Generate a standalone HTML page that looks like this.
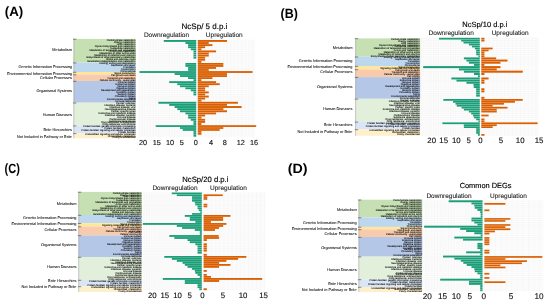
<!DOCTYPE html>
<html lang="en"><head><meta charset="utf-8"><title>KEGG enrichment of DEGs</title>
<style>
html,body{margin:0;padding:0;background:#fff}
body{width:550px;height:305px;overflow:hidden}
svg{display:block}
svg text{font-family:"Liberation Sans",sans-serif;text-rendering:geometricPrecision}
.l{font-size:13.4px;font-weight:bold;fill:#000}
.t{font-size:8px;fill:#000;text-anchor:middle;stroke:#000;stroke-width:.15px}
.d{font-size:6.5px;fill:#222;text-anchor:middle;stroke:#222;stroke-width:.1px}
.a{font-size:7.3px;fill:#111;text-anchor:middle;stroke:#111;stroke-width:.12px}
.c{font-size:3.85px;fill:#1c1c1c;text-anchor:end;stroke:#1c1c1c;stroke-width:.08px}
.s{font-size:2.5px;fill:#111;text-anchor:end;stroke:#111;stroke-width:.07px}
.g{fill:#1b9e77}
.o{fill:#d95f02}
.k{stroke:#222;stroke-width:.5}
.v{stroke:#666;stroke-width:.35}
</style></head><body>
<svg width="550" height="305" viewBox="0 0 550 305">
<rect width="550" height="305" fill="#fff"/>
<g id="panel-A">
<text class="l" x="4.8" y="15.8" textLength="18.5" lengthAdjust="spacingAndGlyphs">(A)</text>
<text class="t" x="204.5" y="28.8" style="font-size:8px">NcSp/ 5 d.p.i</text>
<text class="d" x="166.5" y="37.2">Downregulation</text>
<text class="d" x="224.3" y="37.2">Upregulation</text>
<rect x="73.8" y="38.9" width="62.2" height="23.7" fill="#c6e0b4"/>
<rect x="73.8" y="62.6" width="62.2" height="9.4" fill="#bdd7ee"/>
<rect x="73.8" y="72" width="62.2" height="2.5" fill="#ffe699"/>
<rect x="73.8" y="74.5" width="62.2" height="6.5" fill="#f8cbad"/>
<rect x="73.8" y="81" width="62.2" height="21.7" fill="#b4c7e7"/>
<rect x="73.8" y="102.7" width="62.2" height="22.9" fill="#e2efda"/>
<rect x="73.8" y="125.6" width="62.2" height="7.7" fill="#dae6f5"/>
<rect x="73.8" y="133.3" width="62.2" height="5" fill="#fff0cc"/>
<line class="v" x1="73.8" x2="73.8" y1="38.9" y2="138.3"/>
<line class="k" x1="73" x2="76.4" y1="39.2" y2="39.2"/>
<text class="c" x="72" y="51.45">Metabolism</text>
<text class="s" x="135.4" y="40.64">Carbohydrate metabolism</text>
<text class="s" x="135.4" y="42.61">Energy metabolism</text>
<text class="s" x="135.4" y="44.59">Lipid metabolism</text>
<text class="s" x="135.4" y="46.56">Glycan biosynthesis and metabolism</text>
<text class="s" x="135.4" y="48.54">Nucleotide metabolism</text>
<text class="s" x="135.4" y="50.51">Metabolism of terpenoids and polyketides</text>
<text class="s" x="135.4" y="52.49">Amino acid metabolism</text>
<text class="s" x="135.4" y="54.46">Metabolism of other amino acids</text>
<text class="s" x="135.4" y="56.44">Metabolism of cofactors and vitamins</text>
<text class="s" x="135.4" y="58.41">Biosynthesis of other secondary metabolites</text>
<text class="s" x="135.4" y="60.39">Global and overview maps</text>
<text class="s" x="135.4" y="62.36">Xenobiotics biodegradation and metabolism</text>
<line class="k" x1="73" x2="76.4" y1="62.9" y2="62.9"/>
<text class="c" x="72" y="68.25">Genetic Information Processing</text>
<text class="s" x="135.4" y="64.29">Folding, sorting and degradation</text>
<text class="s" x="135.4" y="66.17">Replication and repair</text>
<text class="s" x="135.4" y="68.05">Translation</text>
<text class="s" x="135.4" y="69.93">Transcription</text>
<text class="s" x="135.4" y="71.81">Chromosome</text>
<line class="k" x1="73" x2="76.4" y1="72.3" y2="72.3"/>
<text class="c" x="72" y="74.65">Environmental Information Processing</text>
<text class="s" x="135.4" y="74">Signal transduction</text>
<line class="k" x1="73" x2="76.4" y1="74.8" y2="74.8"/>
<text class="c" x="72" y="78.95">Cellular Processes</text>
<text class="s" x="135.4" y="76.33">Cell growth and death</text>
<text class="s" x="135.4" y="78.5">Transport and catabolism</text>
<text class="s" x="135.4" y="80.67">Cellular community - eukaryotes</text>
<line class="k" x1="73" x2="76.4" y1="81.3" y2="81.3"/>
<text class="c" x="72" y="92.45">Organismal Systems</text>
<text class="s" x="135.4" y="82.74">Immune system</text>
<text class="s" x="135.4" y="84.71">Endocrine system</text>
<text class="s" x="135.4" y="86.68">Nervous system</text>
<text class="s" x="135.4" y="88.65">Digestive system</text>
<text class="s" x="135.4" y="90.63">Development and regeneration</text>
<text class="s" x="135.4" y="92.6">Excretory system</text>
<text class="s" x="135.4" y="94.57">Sensory system</text>
<text class="s" x="135.4" y="96.55">Circulatory system</text>
<text class="s" x="135.4" y="98.52">Aging</text>
<text class="s" x="135.4" y="100.49">Environmental adaptation</text>
<text class="s" x="135.4" y="102.46">Immune response</text>
<line class="k" x1="73" x2="76.4" y1="103" y2="103"/>
<text class="c" x="72" y="115.55">Human Diseases</text>
<text class="s" x="135.4" y="104.4">Cancer: overview</text>
<text class="s" x="135.4" y="106.31">Infectious disease: bacterial</text>
<text class="s" x="135.4" y="108.22">Infectious disease: viral</text>
<text class="s" x="135.4" y="110.13">Neurodegenerative disease</text>
<text class="s" x="135.4" y="112.04">Cancer: specific types</text>
<text class="s" x="135.4" y="113.95">Endocrine and metabolic disease</text>
<text class="s" x="135.4" y="115.85">Infectious disease: parasitic</text>
<text class="s" x="135.4" y="117.76">Immune disease</text>
<text class="s" x="135.4" y="119.67">Cardiovascular disease</text>
<text class="s" x="135.4" y="121.58">Substance dependence</text>
<text class="s" x="135.4" y="123.49">Drug resistance: antineoplastic</text>
<text class="s" x="135.4" y="125.4">Drug resistance: antimicrobial</text>
<line class="k" x1="73" x2="76.4" y1="125.9" y2="125.9"/>
<text class="c" x="72" y="131.35">Brite Hierarchies</text>
<text class="s" x="135.4" y="127.31">Protein families: genetic information processing</text>
<text class="s" x="135.4" y="129.24">Protein families: metabolism</text>
<text class="s" x="135.4" y="131.16">Protein families: signaling and cellular processes</text>
<text class="s" x="135.4" y="133.09">Protein families</text>
<line class="k" x1="73" x2="76.4" y1="133.6" y2="133.6"/>
<text class="c" x="72" y="137.65">Not Included in Pathway or Brite</text>
<text class="s" x="135.4" y="134.88">Unclassified: signaling and cellular processes</text>
<text class="s" x="135.4" y="136.55">Unclassified: metabolism</text>
<text class="s" x="135.4" y="138.22">Poorly characterized</text>
<rect x="138.4" y="39.4" width="116.6" height="97.7" fill="#fdfdfd"/>
<path d="M138.4 40.94H255M138.4 43.03H255M138.4 45.12H255M138.4 47.21H255M138.4 49.3H255M138.4 51.4H255M138.4 53.49H255M138.4 55.58H255M138.4 57.67H255M138.4 59.76H255M138.4 61.85H255M138.4 63.91H255M138.4 65.94H255M138.4 67.96H255M138.4 69.99H255M138.4 72.01H255M138.4 74.03H255M138.4 76.05H255M138.4 78.07H255M138.4 80.09H255M138.4 82.13H255M138.4 84.19H255M138.4 86.25H255M138.4 88.31H255M138.4 90.37H255M138.4 92.43H255M138.4 94.49H255M138.4 96.55H255M138.4 98.61H255M138.4 100.67H255M138.4 102.76H255M138.4 104.88H255M138.4 107.01H255M138.4 109.14H255M138.4 111.27H255M138.4 113.39H255M138.4 115.52H255M138.4 117.65H255M138.4 119.78H255M138.4 121.9H255M138.4 124.03H255M138.4 126.07H255M138.4 128.01H255M138.4 129.95H255M138.4 131.89H255M138.4 133.83H255M138.4 135.8H255M196.2 39.4V137.1M193.5 39.4V137.1M190.8 39.4V137.1M188.1 39.4V137.1M185.4 39.4V137.1M182.7 39.4V137.1M180 39.4V137.1M177.3 39.4V137.1M174.6 39.4V137.1M171.9 39.4V137.1M169.2 39.4V137.1M166.5 39.4V137.1M163.8 39.4V137.1M161.1 39.4V137.1M158.4 39.4V137.1M155.7 39.4V137.1M153 39.4V137.1M150.3 39.4V137.1M147.6 39.4V137.1M144.9 39.4V137.1M142.2 39.4V137.1M139.5 39.4V137.1M197.8 39.4V137.1M201.45 39.4V137.1M205.1 39.4V137.1M208.75 39.4V137.1M212.4 39.4V137.1M216.05 39.4V137.1M219.7 39.4V137.1M223.35 39.4V137.1M227 39.4V137.1M230.65 39.4V137.1M234.3 39.4V137.1M237.95 39.4V137.1M241.6 39.4V137.1M245.25 39.4V137.1M248.9 39.4V137.1M252.55 39.4V137.1" fill="none" stroke="#eeeeee" stroke-width=".25"/>
<rect class="g" x="163.8" y="40" width="32.4" height="1.88"/>
<rect class="o" x="197.8" y="40" width="29.2" height="1.88"/>
<rect class="g" x="185.4" y="42.09" width="10.8" height="1.88"/>
<rect class="o" x="197.8" y="42.09" width="10.95" height="1.88"/>
<rect class="g" x="188.1" y="44.18" width="8.1" height="1.88"/>
<rect class="o" x="197.8" y="44.18" width="14.6" height="1.88"/>
<rect class="g" x="188.1" y="46.27" width="8.1" height="1.88"/>
<rect class="o" x="197.8" y="46.27" width="7.3" height="1.88"/>
<rect class="g" x="190.8" y="48.36" width="5.4" height="1.88"/>
<rect class="o" x="197.8" y="48.36" width="3.65" height="1.88"/>
<rect class="g" x="193.5" y="50.45" width="2.7" height="1.88"/>
<rect class="o" x="197.8" y="50.45" width="18.25" height="1.88"/>
<rect class="g" x="193.5" y="52.55" width="2.7" height="1.88"/>
<rect class="o" x="197.8" y="52.55" width="10.95" height="1.88"/>
<rect class="g" x="193.5" y="54.64" width="2.7" height="1.88"/>
<rect class="o" x="197.8" y="54.64" width="10.95" height="1.88"/>
<rect class="g" x="193.5" y="56.73" width="2.7" height="1.88"/>
<rect class="o" x="197.8" y="56.73" width="7.3" height="1.88"/>
<rect class="o" x="197.8" y="58.82" width="7.3" height="1.88"/>
<rect class="o" x="197.8" y="60.91" width="3.65" height="1.88"/>
<rect class="g" x="185.4" y="63" width="10.8" height="1.82"/>
<rect class="o" x="197.8" y="63" width="25.55" height="1.82"/>
<rect class="g" x="185.4" y="65.03" width="10.8" height="1.82"/>
<rect class="o" x="197.8" y="65.03" width="25.55" height="1.82"/>
<rect class="g" x="188.1" y="67.05" width="8.1" height="1.82"/>
<rect class="o" x="197.8" y="67.05" width="18.25" height="1.82"/>
<rect class="g" x="188.1" y="69.07" width="8.1" height="1.82"/>
<rect class="o" x="197.8" y="69.07" width="10.95" height="1.82"/>
<rect class="g" x="139.5" y="71.1" width="56.7" height="1.82"/>
<rect class="o" x="197.8" y="71.1" width="54.75" height="1.82"/>
<rect class="g" x="174.6" y="73.12" width="21.6" height="1.82"/>
<rect class="o" x="197.8" y="73.12" width="29.2" height="1.82"/>
<rect class="g" x="180" y="75.14" width="16.2" height="1.82"/>
<rect class="o" x="197.8" y="75.14" width="29.2" height="1.82"/>
<rect class="g" x="188.1" y="77.16" width="8.1" height="1.82"/>
<rect class="o" x="197.8" y="77.16" width="14.6" height="1.82"/>
<rect class="g" x="193.5" y="79.18" width="2.7" height="1.82"/>
<rect class="o" x="197.8" y="79.18" width="3.65" height="1.82"/>
<rect class="g" x="169.2" y="81.2" width="27" height="1.85"/>
<rect class="o" x="197.8" y="81.2" width="18.25" height="1.85"/>
<rect class="g" x="177.3" y="83.26" width="18.9" height="1.85"/>
<rect class="o" x="197.8" y="83.26" width="21.9" height="1.85"/>
<rect class="g" x="180" y="85.32" width="16.2" height="1.85"/>
<rect class="o" x="197.8" y="85.32" width="10.95" height="1.85"/>
<rect class="g" x="185.4" y="87.38" width="10.8" height="1.85"/>
<rect class="o" x="197.8" y="87.38" width="7.3" height="1.85"/>
<rect class="g" x="190.8" y="89.44" width="5.4" height="1.85"/>
<rect class="o" x="197.8" y="89.44" width="7.3" height="1.85"/>
<rect class="g" x="193.5" y="91.5" width="2.7" height="1.85"/>
<rect class="o" x="197.8" y="91.5" width="10.95" height="1.85"/>
<rect class="g" x="193.5" y="93.56" width="2.7" height="1.85"/>
<rect class="o" x="197.8" y="93.56" width="7.3" height="1.85"/>
<rect class="o" x="197.8" y="95.62" width="10.95" height="1.85"/>
<rect class="o" x="197.8" y="97.68" width="7.3" height="1.85"/>
<rect class="o" x="197.8" y="99.74" width="3.65" height="1.85"/>
<rect class="g" x="158.4" y="101.8" width="37.8" height="1.91"/>
<rect class="o" x="197.8" y="101.8" width="40.15" height="1.91"/>
<rect class="g" x="169.2" y="103.93" width="27" height="1.91"/>
<rect class="o" x="197.8" y="103.93" width="29.2" height="1.91"/>
<rect class="g" x="174.6" y="106.05" width="21.6" height="1.91"/>
<rect class="o" x="197.8" y="106.05" width="43.8" height="1.91"/>
<rect class="g" x="177.3" y="108.18" width="18.9" height="1.91"/>
<rect class="o" x="197.8" y="108.18" width="25.55" height="1.91"/>
<rect class="g" x="180" y="110.31" width="16.2" height="1.91"/>
<rect class="o" x="197.8" y="110.31" width="29.2" height="1.91"/>
<rect class="g" x="185.4" y="112.44" width="10.8" height="1.91"/>
<rect class="o" x="197.8" y="112.44" width="18.25" height="1.91"/>
<rect class="g" x="188.1" y="114.56" width="8.1" height="1.91"/>
<rect class="o" x="197.8" y="114.56" width="7.3" height="1.91"/>
<rect class="g" x="188.1" y="116.69" width="8.1" height="1.91"/>
<rect class="o" x="197.8" y="116.69" width="3.65" height="1.91"/>
<rect class="g" x="190.8" y="118.82" width="5.4" height="1.91"/>
<rect class="o" x="197.8" y="118.82" width="7.3" height="1.91"/>
<rect class="g" x="193.5" y="120.95" width="2.7" height="1.91"/>
<rect class="o" x="197.8" y="120.95" width="7.3" height="1.91"/>
<rect class="g" x="193.5" y="123.07" width="2.7" height="1.91"/>
<rect class="o" x="197.8" y="123.07" width="3.65" height="1.91"/>
<rect class="g" x="155.7" y="125.2" width="40.5" height="1.75"/>
<rect class="o" x="197.8" y="125.2" width="58.4" height="1.75"/>
<rect class="g" x="180" y="127.14" width="16.2" height="1.75"/>
<rect class="o" x="197.8" y="127.14" width="25.55" height="1.75"/>
<rect class="g" x="182.7" y="129.08" width="13.5" height="1.75"/>
<rect class="o" x="197.8" y="129.08" width="21.9" height="1.75"/>
<rect class="g" x="193.5" y="131.02" width="2.7" height="1.75"/>
<rect class="o" x="197.8" y="131.02" width="3.65" height="1.75"/>
<rect class="g" x="193.5" y="132.96" width="2.7" height="1.75"/>
<rect class="o" x="197.8" y="132.96" width="3.65" height="1.75"/>
<rect class="g" x="193.5" y="134.9" width="2.7" height="1.8"/>
<text class="a" x="143" y="145.4" style="font-size:7.3px">20</text>
<text class="a" x="156.7" y="145.4" style="font-size:7.3px">15</text>
<text class="a" x="170.1" y="145.4" style="font-size:7.3px">10</text>
<text class="a" x="181.9" y="145.4" style="font-size:7.3px">5</text>
<text class="a" x="195.9" y="145.4" style="font-size:7.3px">0</text>
<text class="a" x="211" y="145.4" style="font-size:7.3px">4</text>
<text class="a" x="224.7" y="145.4" style="font-size:7.3px">8</text>
<text class="a" x="240.7" y="145.4" style="font-size:7.3px">12</text>
<text class="a" x="254" y="145.4" style="font-size:7.3px">16</text>
</g>
<g id="panel-B">
<text class="l" x="280.6" y="18.4" textLength="17.3" lengthAdjust="spacingAndGlyphs">(B)</text>
<text class="t" x="484.8" y="27.4" style="font-size:7.5px">NcSp/10 d.p.i</text>
<text class="d" x="451.2" y="34.7">Downregulation</text>
<text class="d" x="510.1" y="34.6">Upregulation</text>
<rect x="355.6" y="38.4" width="64.7" height="18.3" fill="#c6e0b4"/>
<rect x="355.6" y="56.7" width="64.7" height="9.4" fill="#bdd7ee"/>
<rect x="355.6" y="66.1" width="64.7" height="3.3" fill="#ffe699"/>
<rect x="355.6" y="69.4" width="64.7" height="7.7" fill="#f8cbad"/>
<rect x="355.6" y="77.1" width="64.7" height="21.7" fill="#b4c7e7"/>
<rect x="355.6" y="98.8" width="64.7" height="23" fill="#e2efda"/>
<rect x="355.6" y="121.8" width="64.7" height="7.6" fill="#dae6f5"/>
<rect x="355.6" y="129.4" width="64.7" height="6.4" fill="#fff0cc"/>
<line class="v" x1="355.6" x2="355.6" y1="38.4" y2="135.8"/>
<line class="k" x1="354.8" x2="358.2" y1="38.7" y2="38.7"/>
<text class="c" x="352.4" y="49.35">Metabolism</text>
<text class="s" x="419.7" y="40.06">Carbohydrate metabolism</text>
<text class="s" x="419.7" y="41.89">Energy metabolism</text>
<text class="s" x="419.7" y="43.73">Lipid metabolism</text>
<text class="s" x="419.7" y="45.55">Glycan biosynthesis and metabolism</text>
<text class="s" x="419.7" y="47.39">Nucleotide metabolism</text>
<text class="s" x="419.7" y="49.22">Metabolism of terpenoids and polyketides</text>
<text class="s" x="419.7" y="51.05">Amino acid metabolism</text>
<text class="s" x="419.7" y="52.88">Metabolism of other amino acids</text>
<text class="s" x="419.7" y="54.71">Metabolism of cofactors and vitamins</text>
<text class="s" x="419.7" y="56.54">Biosynthesis of other secondary metabolites</text>
<line class="k" x1="354.8" x2="358.2" y1="57" y2="57"/>
<text class="c" x="352.4" y="61.55">Genetic Information Processing</text>
<text class="s" x="419.7" y="58.39">Folding, sorting and degradation</text>
<text class="s" x="419.7" y="60.27">Replication and repair</text>
<text class="s" x="419.7" y="62.15">Translation</text>
<text class="s" x="419.7" y="64.03">Transcription</text>
<text class="s" x="419.7" y="65.91">Chromosome</text>
<line class="k" x1="354.8" x2="358.2" y1="66.4" y2="66.4"/>
<text class="c" x="352.4" y="68.35">Environmental Information Processing</text>
<text class="s" x="419.7" y="67.67">Signal transduction</text>
<text class="s" x="419.7" y="69.33">Signaling molecules and interaction</text>
<line class="k" x1="354.8" x2="358.2" y1="69.7" y2="69.7"/>
<text class="c" x="352.4" y="72.95">Cellular Processes</text>
<text class="s" x="419.7" y="71.11">Cell growth and death</text>
<text class="s" x="419.7" y="73.04">Transport and catabolism</text>
<text class="s" x="419.7" y="74.96">Cellular community - eukaryotes</text>
<text class="s" x="419.7" y="76.89">Cell motility</text>
<line class="k" x1="354.8" x2="358.2" y1="77.4" y2="77.4"/>
<text class="c" x="352.4" y="88.35">Organismal Systems</text>
<text class="s" x="419.7" y="78.84">Immune system</text>
<text class="s" x="419.7" y="80.81">Endocrine system</text>
<text class="s" x="419.7" y="82.78">Nervous system</text>
<text class="s" x="419.7" y="84.75">Digestive system</text>
<text class="s" x="419.7" y="86.73">Development and regeneration</text>
<text class="s" x="419.7" y="88.7">Excretory system</text>
<text class="s" x="419.7" y="90.67">Sensory system</text>
<text class="s" x="419.7" y="92.65">Circulatory system</text>
<text class="s" x="419.7" y="94.62">Aging</text>
<text class="s" x="419.7" y="96.59">Environmental adaptation</text>
<text class="s" x="419.7" y="98.56">Immune response</text>
<line class="k" x1="354.8" x2="358.2" y1="99.1" y2="99.1"/>
<text class="c" x="352.4" y="110.45">Human Diseases</text>
<text class="s" x="419.7" y="100.51">Cancer: overview</text>
<text class="s" x="419.7" y="102.42">Infectious disease: bacterial</text>
<text class="s" x="419.7" y="104.34">Infectious disease: viral</text>
<text class="s" x="419.7" y="106.26">Neurodegenerative disease</text>
<text class="s" x="419.7" y="108.17">Cancer: specific types</text>
<text class="s" x="419.7" y="110.09">Endocrine and metabolic disease</text>
<text class="s" x="419.7" y="112.01">Infectious disease: parasitic</text>
<text class="s" x="419.7" y="113.92">Immune disease</text>
<text class="s" x="419.7" y="115.84">Cardiovascular disease</text>
<text class="s" x="419.7" y="117.76">Substance dependence</text>
<text class="s" x="419.7" y="119.67">Drug resistance: antineoplastic</text>
<text class="s" x="419.7" y="121.59">Drug resistance: antimicrobial</text>
<line class="k" x1="354.8" x2="358.2" y1="122.1" y2="122.1"/>
<text class="c" x="352.4" y="125.65">Brite Hierarchies</text>
<text class="s" x="419.7" y="123.5">Protein families: genetic information processing</text>
<text class="s" x="419.7" y="125.4">Protein families: metabolism</text>
<text class="s" x="419.7" y="127.3">Protein families: signaling and cellular processes</text>
<text class="s" x="419.7" y="129.2">Protein families</text>
<line class="k" x1="354.8" x2="358.2" y1="129.7" y2="129.7"/>
<text class="c" x="352.4" y="133.35">Not Included in Pathway or Brite</text>
<text class="s" x="419.7" y="131.22">Unclassified: signaling and cellular processes</text>
<text class="s" x="419.7" y="133.35">Unclassified: metabolism</text>
<text class="s" x="419.7" y="135.48">Poorly characterized</text>
<rect x="421" y="37.2" width="117.8" height="98.95" fill="#fdfdfd"/>
<path d="M421 38.68H538.8M421 40.64H538.8M421 42.6H538.8M421 44.56H538.8M421 46.52H538.8M421 48.48H538.8M421 50.44H538.8M421 52.4H538.8M421 54.36H538.8M421 56.32H538.8M421 58.38H538.8M421 60.55H538.8M421 62.73H538.8M421 64.9H538.8M421 67.13H538.8M421 69.41H538.8M421 71.69H538.8M421 73.97H538.8M421 76.25H538.8M421 78.47H538.8M421 80.62H538.8M421 82.77H538.8M421 84.92H538.8M421 87.07H538.8M421 89.22H538.8M421 91.37H538.8M421 93.52H538.8M421 95.67H538.8M421 97.82H538.8M421 99.88H538.8M421 101.83H538.8M421 103.78H538.8M421 105.73H538.8M421 107.68H538.8M421 109.63H538.8M421 111.58H538.8M421 113.53H538.8M421 115.48H538.8M421 117.43H538.8M421 119.38H538.8M421 121.33H538.8M421 123.27H538.8M421 125.2H538.8M421 127.14H538.8M421 129.07H538.8M421 131H538.8M421 132.94H538.8M421 134.88H538.8M479.8 37.2V136.15M477.37 37.2V136.15M474.94 37.2V136.15M472.51 37.2V136.15M470.08 37.2V136.15M467.65 37.2V136.15M465.22 37.2V136.15M462.79 37.2V136.15M460.36 37.2V136.15M457.93 37.2V136.15M455.5 37.2V136.15M453.07 37.2V136.15M450.64 37.2V136.15M448.21 37.2V136.15M445.78 37.2V136.15M443.35 37.2V136.15M440.92 37.2V136.15M438.49 37.2V136.15M436.06 37.2V136.15M433.63 37.2V136.15M431.2 37.2V136.15M428.77 37.2V136.15M426.34 37.2V136.15M423.91 37.2V136.15M421.48 37.2V136.15M481.3 37.2V136.15M485.21 37.2V136.15M489.12 37.2V136.15M493.03 37.2V136.15M496.94 37.2V136.15M500.85 37.2V136.15M504.76 37.2V136.15M508.67 37.2V136.15M512.58 37.2V136.15M516.49 37.2V136.15M520.4 37.2V136.15M524.31 37.2V136.15M528.22 37.2V136.15M532.13 37.2V136.15M536.04 37.2V136.15" fill="none" stroke="#eeeeee" stroke-width=".25"/>
<rect class="g" x="438.98" y="37.8" width="40.82" height="1.76"/>
<rect class="o" x="481.3" y="37.8" width="3.13" height="1.76"/>
<rect class="g" x="461.21" y="39.76" width="18.59" height="1.76"/>
<rect class="o" x="481.3" y="39.76" width="3.13" height="1.76"/>
<rect class="g" x="463.52" y="41.72" width="16.28" height="1.76"/>
<rect class="g" x="468.87" y="43.68" width="10.94" height="1.76"/>
<rect class="g" x="472.02" y="45.64" width="7.78" height="1.76"/>
<rect class="g" x="474.82" y="47.6" width="4.98" height="1.76"/>
<rect class="o" x="481.3" y="47.6" width="11.34" height="1.76"/>
<rect class="g" x="476.16" y="49.56" width="3.65" height="1.76"/>
<rect class="o" x="481.3" y="49.56" width="7.27" height="1.76"/>
<rect class="g" x="476.16" y="51.52" width="3.65" height="1.76"/>
<rect class="o" x="481.3" y="51.52" width="3.13" height="1.76"/>
<rect class="g" x="476.16" y="53.48" width="3.65" height="1.76"/>
<rect class="o" x="481.3" y="53.48" width="3.13" height="1.76"/>
<rect class="g" x="478.46" y="55.44" width="1.34" height="1.76"/>
<rect class="o" x="481.3" y="55.44" width="3.13" height="1.76"/>
<rect class="g" x="463.88" y="57.4" width="15.92" height="1.96"/>
<rect class="o" x="481.3" y="57.4" width="14.86" height="1.96"/>
<rect class="g" x="466.44" y="59.57" width="13.37" height="1.96"/>
<rect class="o" x="481.3" y="59.57" width="26.2" height="1.96"/>
<rect class="g" x="468.87" y="61.75" width="10.94" height="1.96"/>
<rect class="o" x="481.3" y="61.75" width="19.16" height="1.96"/>
<rect class="g" x="473.97" y="63.92" width="5.83" height="1.96"/>
<rect class="o" x="481.3" y="63.92" width="3.13" height="1.96"/>
<rect class="g" x="423.18" y="66.1" width="56.62" height="2.05"/>
<rect class="o" x="481.3" y="66.1" width="19.16" height="2.05"/>
<rect class="g" x="458.9" y="68.38" width="20.9" height="2.05"/>
<rect class="o" x="481.3" y="68.38" width="15.44" height="2.05"/>
<rect class="g" x="463.88" y="70.66" width="15.92" height="2.05"/>
<rect class="o" x="481.3" y="70.66" width="41.45" height="2.05"/>
<rect class="g" x="473.97" y="72.94" width="5.83" height="2.05"/>
<rect class="o" x="481.3" y="72.94" width="3.13" height="2.05"/>
<rect class="g" x="477.98" y="75.22" width="1.82" height="2.05"/>
<rect class="g" x="451.37" y="77.5" width="28.43" height="1.94"/>
<rect class="o" x="481.3" y="77.5" width="7.27" height="1.94"/>
<rect class="g" x="456.47" y="79.65" width="23.33" height="1.93"/>
<rect class="o" x="481.3" y="79.65" width="3.13" height="1.93"/>
<rect class="g" x="466.44" y="81.8" width="13.37" height="1.94"/>
<rect class="o" x="481.3" y="81.8" width="3.13" height="1.94"/>
<rect class="g" x="473.48" y="83.95" width="6.32" height="1.93"/>
<rect class="g" x="473.73" y="86.1" width="6.08" height="1.94"/>
<rect class="g" x="476.16" y="88.25" width="3.65" height="1.94"/>
<rect class="o" x="481.3" y="88.25" width="3.13" height="1.94"/>
<rect class="g" x="476.16" y="90.4" width="3.65" height="1.93"/>
<rect class="o" x="481.3" y="90.4" width="3.13" height="1.93"/>
<rect class="g" x="476.16" y="92.55" width="3.65" height="1.94"/>
<rect class="g" x="476.16" y="94.7" width="3.65" height="1.93"/>
<rect class="o" x="481.3" y="96.85" width="3.13" height="1.94"/>
<rect class="g" x="443.35" y="99" width="36.45" height="1.76"/>
<rect class="o" x="481.3" y="99" width="41.45" height="1.76"/>
<rect class="g" x="453.07" y="100.95" width="26.73" height="1.76"/>
<rect class="o" x="481.3" y="100.95" width="33.63" height="1.76"/>
<rect class="g" x="455.5" y="102.9" width="24.3" height="1.75"/>
<rect class="o" x="481.3" y="102.9" width="22.68" height="1.75"/>
<rect class="g" x="456.72" y="104.85" width="23.09" height="1.76"/>
<rect class="o" x="481.3" y="104.85" width="11.34" height="1.76"/>
<rect class="g" x="461.57" y="106.8" width="18.23" height="1.76"/>
<rect class="o" x="481.3" y="106.8" width="26.2" height="1.76"/>
<rect class="g" x="463.88" y="108.75" width="15.92" height="1.76"/>
<rect class="o" x="481.3" y="108.75" width="15.44" height="1.76"/>
<rect class="g" x="468.87" y="110.7" width="10.94" height="1.76"/>
<rect class="o" x="481.3" y="110.7" width="15.44" height="1.76"/>
<rect class="g" x="471.17" y="112.65" width="8.63" height="1.76"/>
<rect class="g" x="473" y="114.6" width="6.8" height="1.76"/>
<rect class="o" x="481.3" y="114.6" width="7.27" height="1.76"/>
<rect class="g" x="473.97" y="116.55" width="5.83" height="1.75"/>
<rect class="g" x="476.16" y="118.5" width="3.65" height="1.76"/>
<rect class="o" x="481.3" y="118.5" width="3.13" height="1.76"/>
<rect class="g" x="478.46" y="120.45" width="1.34" height="1.76"/>
<rect class="o" x="481.3" y="120.45" width="3.13" height="1.76"/>
<rect class="g" x="442.38" y="122.4" width="37.42" height="1.74"/>
<rect class="o" x="481.3" y="122.4" width="56.3" height="1.74"/>
<rect class="g" x="463.76" y="124.33" width="16.04" height="1.74"/>
<rect class="o" x="481.3" y="124.33" width="15.44" height="1.74"/>
<rect class="g" x="463.88" y="126.27" width="15.92" height="1.74"/>
<rect class="o" x="481.3" y="126.27" width="11.34" height="1.74"/>
<rect class="g" x="476.16" y="128.2" width="3.65" height="1.74"/>
<rect class="g" x="476.16" y="130.13" width="3.65" height="1.74"/>
<rect class="g" x="476.16" y="132.07" width="3.65" height="1.74"/>
<rect class="g" x="477.98" y="134" width="1.82" height="1.75"/>
<rect class="o" x="481.3" y="134" width="3.13" height="1.75"/>
<text class="a" x="431.7" y="142.9" style="font-size:7.8px">20</text>
<text class="a" x="443.7" y="142.9" style="font-size:7.8px">15</text>
<text class="a" x="456.3" y="142.9" style="font-size:7.8px">10</text>
<text class="a" x="468.6" y="142.9" style="font-size:7.8px">5</text>
<text class="a" x="480.4" y="142.9" style="font-size:7.8px">0</text>
<text class="a" x="501" y="142.9" style="font-size:7.8px">5</text>
<text class="a" x="520.2" y="142.9" style="font-size:7.8px">10</text>
<text class="a" x="539.1" y="142.9" style="font-size:7.8px">15</text>
</g>
<g id="panel-C">
<text class="l" x="4.6" y="173.3" textLength="15.3" lengthAdjust="spacingAndGlyphs">(C)</text>
<text class="t" x="205.4" y="182.2" style="font-size:7.7px">NcSp/20 d.p.i</text>
<text class="d" x="175" y="190.3">Downregulation</text>
<text class="d" x="228.4" y="190.3">Upregulation</text>
<rect x="78.7" y="191.9" width="63.3" height="23.1" fill="#c6e0b4"/>
<rect x="78.7" y="215" width="63.3" height="8.2" fill="#bdd7ee"/>
<rect x="78.7" y="223.2" width="63.3" height="3.3" fill="#ffe699"/>
<rect x="78.7" y="226.5" width="63.3" height="8.9" fill="#f8cbad"/>
<rect x="78.7" y="235.4" width="63.3" height="21.6" fill="#b4c7e7"/>
<rect x="78.7" y="257" width="63.3" height="23" fill="#e2efda"/>
<rect x="78.7" y="280" width="63.3" height="6.4" fill="#dae6f5"/>
<rect x="78.7" y="286.4" width="63.3" height="5.6" fill="#fff0cc"/>
<line class="v" x1="78.7" x2="78.7" y1="191.9" y2="292"/>
<line class="k" x1="77.9" x2="81.3" y1="192.2" y2="192.2"/>
<text class="c" x="76.5" y="204.65">Metabolism</text>
<text class="s" x="141.4" y="193.61">Carbohydrate metabolism</text>
<text class="s" x="141.4" y="195.54">Energy metabolism</text>
<text class="s" x="141.4" y="197.46">Lipid metabolism</text>
<text class="s" x="141.4" y="199.39">Glycan biosynthesis and metabolism</text>
<text class="s" x="141.4" y="201.31">Nucleotide metabolism</text>
<text class="s" x="141.4" y="203.24">Metabolism of terpenoids and polyketides</text>
<text class="s" x="141.4" y="205.16">Amino acid metabolism</text>
<text class="s" x="141.4" y="207.09">Metabolism of other amino acids</text>
<text class="s" x="141.4" y="209.01">Metabolism of cofactors and vitamins</text>
<text class="s" x="141.4" y="210.94">Biosynthesis of other secondary metabolites</text>
<text class="s" x="141.4" y="212.86">Global and overview maps</text>
<text class="s" x="141.4" y="214.79">Xenobiotics biodegradation and metabolism</text>
<line class="k" x1="77.9" x2="81.3" y1="215.3" y2="215.3"/>
<text class="c" x="76.5" y="219.45">Genetic Information Processing</text>
<text class="s" x="141.4" y="216.78">Folding, sorting and degradation</text>
<text class="s" x="141.4" y="218.82">Replication and repair</text>
<text class="s" x="141.4" y="220.88">Translation</text>
<text class="s" x="141.4" y="222.92">Transcription</text>
<line class="k" x1="77.9" x2="81.3" y1="223.5" y2="223.5"/>
<text class="c" x="76.5" y="224.55">Environmental Information Processing</text>
<text class="s" x="141.4" y="224.77">Signal transduction</text>
<text class="s" x="141.4" y="226.43">Signaling molecules and interaction</text>
<line class="k" x1="77.9" x2="81.3" y1="226.8" y2="226.8"/>
<text class="c" x="76.5" y="230.85">Cellular Processes</text>
<text class="s" x="141.4" y="228.14">Cell growth and death</text>
<text class="s" x="141.4" y="229.92">Transport and catabolism</text>
<text class="s" x="141.4" y="231.7">Cellular community - eukaryotes</text>
<text class="s" x="141.4" y="233.48">Cell motility</text>
<text class="s" x="141.4" y="235.26">Cellular community</text>
<line class="k" x1="77.9" x2="81.3" y1="235.7" y2="235.7"/>
<text class="c" x="76.5" y="245.55">Organismal Systems</text>
<text class="s" x="141.4" y="237.13">Immune system</text>
<text class="s" x="141.4" y="239.1">Endocrine system</text>
<text class="s" x="141.4" y="241.06">Nervous system</text>
<text class="s" x="141.4" y="243.02">Digestive system</text>
<text class="s" x="141.4" y="244.99">Development and regeneration</text>
<text class="s" x="141.4" y="246.95">Excretory system</text>
<text class="s" x="141.4" y="248.91">Sensory system</text>
<text class="s" x="141.4" y="250.88">Circulatory system</text>
<text class="s" x="141.4" y="252.84">Aging</text>
<text class="s" x="141.4" y="254.8">Environmental adaptation</text>
<text class="s" x="141.4" y="256.77">Immune response</text>
<line class="k" x1="77.9" x2="81.3" y1="257.3" y2="257.3"/>
<text class="c" x="76.5" y="268.25">Human Diseases</text>
<text class="s" x="141.4" y="258.71">Cancer: overview</text>
<text class="s" x="141.4" y="260.62">Infectious disease: bacterial</text>
<text class="s" x="141.4" y="262.54">Infectious disease: viral</text>
<text class="s" x="141.4" y="264.46">Neurodegenerative disease</text>
<text class="s" x="141.4" y="266.38">Cancer: specific types</text>
<text class="s" x="141.4" y="268.29">Endocrine and metabolic disease</text>
<text class="s" x="141.4" y="270.21">Infectious disease: parasitic</text>
<text class="s" x="141.4" y="272.12">Immune disease</text>
<text class="s" x="141.4" y="274.04">Cardiovascular disease</text>
<text class="s" x="141.4" y="275.96">Substance dependence</text>
<text class="s" x="141.4" y="277.88">Drug resistance: antineoplastic</text>
<text class="s" x="141.4" y="279.79">Drug resistance: antimicrobial</text>
<line class="k" x1="77.9" x2="81.3" y1="280.3" y2="280.3"/>
<text class="c" x="76.5" y="281.75">Brite Hierarchies</text>
<text class="s" x="141.4" y="281.82">Protein families: genetic information processing</text>
<text class="s" x="141.4" y="283.95">Protein families: metabolism</text>
<text class="s" x="141.4" y="286.08">Protein families: signaling and cellular processes</text>
<line class="k" x1="77.9" x2="81.3" y1="286.7" y2="286.7"/>
<text class="c" x="76.5" y="287.75">Not Included in Pathway or Brite</text>
<text class="s" x="141.4" y="288.08">Unclassified: signaling and cellular processes</text>
<text class="s" x="141.4" y="289.95">Unclassified: metabolism</text>
<text class="s" x="141.4" y="291.82">Poorly characterized</text>
<rect x="143" y="191.9" width="122" height="98.65" fill="#fdfdfd"/>
<path d="M143 193.34H265M143 195.22H265M143 197.09H265M143 198.97H265M143 200.84H265M143 202.72H265M143 204.59H265M143 206.47H265M143 208.34H265M143 210.22H265M143 212.09H265M143 213.97H265M143 215.9H265M143 217.91H265M143 219.92H265M143 221.93H265M143 223.94H265M143 225.95H265M143 227.95H265M143 229.96H265M143 231.97H265M143 233.98H265M143 235.99H265M143 238H265M143 240.05H265M143 242.16H265M143 244.28H265M143 246.39H265M143 248.5H265M143 250.61H265M143 252.73H265M143 254.84H265M143 256.9H265M143 258.9H265M143 260.9H265M143 262.9H265M143 264.9H265M143 266.9H265M143 268.9H265M143 270.9H265M143 272.9H265M143 274.9H265M143 276.9H265M143 278.93H265M143 280.99H265M143 283.05H265M143 285.11H265M143 287.17H265M143 289.22H265M201.8 191.9V290.55M199.3 191.9V290.55M196.8 191.9V290.55M194.3 191.9V290.55M191.8 191.9V290.55M189.3 191.9V290.55M186.8 191.9V290.55M184.3 191.9V290.55M181.8 191.9V290.55M179.3 191.9V290.55M176.8 191.9V290.55M174.3 191.9V290.55M171.8 191.9V290.55M169.3 191.9V290.55M166.8 191.9V290.55M164.3 191.9V290.55M161.8 191.9V290.55M159.3 191.9V290.55M156.8 191.9V290.55M154.3 191.9V290.55M151.8 191.9V290.55M149.3 191.9V290.55M146.8 191.9V290.55M144.3 191.9V290.55M203.6 191.9V290.55M207.67 191.9V290.55M211.74 191.9V290.55M215.81 191.9V290.55M219.88 191.9V290.55M223.95 191.9V290.55M228.02 191.9V290.55M232.09 191.9V290.55M236.16 191.9V290.55M240.23 191.9V290.55M244.3 191.9V290.55M248.37 191.9V290.55M252.44 191.9V290.55M256.51 191.9V290.55M260.58 191.9V290.55M264.65 191.9V290.55" fill="none" stroke="#eeeeee" stroke-width=".25"/>
<rect class="g" x="171.8" y="192.5" width="30" height="1.69"/>
<rect class="g" x="176.8" y="194.38" width="25" height="1.69"/>
<rect class="o" x="203.6" y="194.38" width="19.13" height="1.69"/>
<rect class="g" x="192.05" y="196.25" width="9.75" height="1.69"/>
<rect class="o" x="203.6" y="196.25" width="3.66" height="1.69"/>
<rect class="g" x="192.05" y="198.12" width="9.75" height="1.69"/>
<rect class="o" x="203.6" y="198.12" width="3.66" height="1.69"/>
<rect class="g" x="192.05" y="200" width="9.75" height="1.69"/>
<rect class="g" x="194.8" y="201.88" width="7" height="1.69"/>
<rect class="g" x="195.3" y="203.75" width="6.5" height="1.69"/>
<rect class="o" x="203.6" y="203.75" width="3.66" height="1.69"/>
<rect class="g" x="197.55" y="205.62" width="4.25" height="1.69"/>
<rect class="o" x="203.6" y="205.62" width="3.66" height="1.69"/>
<rect class="g" x="197.55" y="207.5" width="4.25" height="1.69"/>
<rect class="g" x="198.8" y="209.38" width="3" height="1.69"/>
<rect class="g" x="200.3" y="211.25" width="1.5" height="1.69"/>
<rect class="g" x="192.05" y="213.12" width="9.75" height="1.69"/>
<rect class="g" x="184.8" y="215" width="17" height="1.81"/>
<rect class="o" x="203.6" y="215" width="26.86" height="1.81"/>
<rect class="g" x="189.8" y="217.01" width="12" height="1.81"/>
<rect class="o" x="203.6" y="217.01" width="19.54" height="1.81"/>
<rect class="g" x="189.8" y="219.02" width="12" height="1.81"/>
<rect class="o" x="203.6" y="219.02" width="19.54" height="1.81"/>
<rect class="g" x="195.3" y="221.03" width="6.5" height="1.81"/>
<rect class="o" x="203.6" y="221.03" width="7.33" height="1.81"/>
<rect class="g" x="142.8" y="223.03" width="59" height="1.81"/>
<rect class="o" x="203.6" y="223.03" width="22.79" height="1.81"/>
<rect class="g" x="176.8" y="225.04" width="25" height="1.81"/>
<rect class="o" x="203.6" y="225.04" width="19.54" height="1.81"/>
<rect class="g" x="182.05" y="227.05" width="19.75" height="1.81"/>
<rect class="o" x="203.6" y="227.05" width="15.47" height="1.81"/>
<rect class="g" x="194.8" y="229.06" width="7" height="1.81"/>
<rect class="o" x="203.6" y="229.06" width="11.4" height="1.81"/>
<rect class="g" x="199.8" y="231.07" width="2" height="1.81"/>
<rect class="g" x="199.8" y="233.07" width="2" height="1.81"/>
<rect class="g" x="169.3" y="235.08" width="32.5" height="1.81"/>
<rect class="o" x="203.6" y="235.08" width="15.06" height="1.81"/>
<rect class="g" x="174.3" y="237.09" width="27.5" height="1.81"/>
<rect class="o" x="203.6" y="237.09" width="15.47" height="1.81"/>
<rect class="g" x="187.55" y="239.1" width="14.25" height="1.9"/>
<rect class="o" x="203.6" y="239.1" width="3.26" height="1.9"/>
<rect class="g" x="189.8" y="241.21" width="12" height="1.9"/>
<rect class="g" x="195.3" y="243.32" width="6.5" height="1.9"/>
<rect class="o" x="203.6" y="243.32" width="3.26" height="1.9"/>
<rect class="g" x="197.55" y="245.44" width="4.25" height="1.9"/>
<rect class="o" x="203.6" y="245.44" width="3.26" height="1.9"/>
<rect class="g" x="197.55" y="247.55" width="4.25" height="1.9"/>
<rect class="o" x="203.6" y="247.55" width="3.26" height="1.9"/>
<rect class="g" x="197.55" y="249.66" width="4.25" height="1.9"/>
<rect class="o" x="203.6" y="249.66" width="3.26" height="1.9"/>
<rect class="g" x="197.55" y="251.78" width="4.25" height="1.9"/>
<rect class="o" x="203.6" y="253.89" width="3.26" height="1.9"/>
<rect class="g" x="164.3" y="256" width="37.5" height="1.8"/>
<rect class="o" x="203.6" y="256" width="42.73" height="1.8"/>
<rect class="g" x="171.8" y="258" width="30" height="1.8"/>
<rect class="o" x="203.6" y="258" width="34.59" height="1.8"/>
<rect class="g" x="176.8" y="260" width="25" height="1.8"/>
<rect class="o" x="203.6" y="260" width="22.79" height="1.8"/>
<rect class="g" x="182.55" y="262" width="19.25" height="1.8"/>
<rect class="o" x="203.6" y="262" width="15.47" height="1.8"/>
<rect class="g" x="184.8" y="264" width="17" height="1.8"/>
<rect class="o" x="203.6" y="264" width="26.86" height="1.8"/>
<rect class="g" x="187.55" y="266" width="14.25" height="1.8"/>
<rect class="o" x="203.6" y="266" width="15.47" height="1.8"/>
<rect class="g" x="192.05" y="268" width="9.75" height="1.8"/>
<rect class="g" x="194.8" y="270" width="7" height="1.8"/>
<rect class="o" x="203.6" y="270" width="3.26" height="1.8"/>
<rect class="g" x="195.3" y="272" width="6.5" height="1.8"/>
<rect class="g" x="197.55" y="274" width="4.25" height="1.8"/>
<rect class="o" x="203.6" y="274" width="3.26" height="1.8"/>
<rect class="g" x="199.8" y="276" width="2" height="1.8"/>
<rect class="o" x="203.6" y="276" width="7.33" height="1.8"/>
<rect class="g" x="162.8" y="278" width="39" height="1.85"/>
<rect class="o" x="203.6" y="278" width="58.61" height="1.85"/>
<rect class="g" x="184.8" y="280.06" width="17" height="1.85"/>
<rect class="o" x="203.6" y="280.06" width="15.47" height="1.85"/>
<rect class="g" x="184.8" y="282.12" width="17" height="1.85"/>
<rect class="g" x="197.55" y="284.18" width="4.25" height="1.85"/>
<rect class="g" x="197.55" y="286.24" width="4.25" height="1.85"/>
<rect class="g" x="199.3" y="288.3" width="2.5" height="1.85"/>
<rect class="o" x="203.6" y="288.3" width="3.26" height="1.85"/>
<text class="a" x="152.3" y="298.1" style="font-size:7.8px">20</text>
<text class="a" x="164.8" y="298.1" style="font-size:7.8px">15</text>
<text class="a" x="177.5" y="298.1" style="font-size:7.8px">10</text>
<text class="a" x="189.7" y="298.1" style="font-size:7.8px">5</text>
<text class="a" x="202.4" y="298.1" style="font-size:7.8px">0</text>
<text class="a" x="222.8" y="298.1" style="font-size:7.8px">5</text>
<text class="a" x="243.1" y="298.1" style="font-size:7.8px">10</text>
<text class="a" x="263.5" y="298.1" style="font-size:7.8px">15</text>
</g>
<g id="panel-D">
<text class="l" x="287.7" y="173.3" textLength="19.8" lengthAdjust="spacingAndGlyphs">(D)</text>
<text class="t" x="485.5" y="187.6" style="font-size:7.4px">Common DEGs</text>
<text class="d" x="449" y="197.6">Downregulation</text>
<text class="d" x="508.4" y="197.6">Upregulation</text>
<rect x="358.8" y="199.7" width="63.6" height="17.8" fill="#c6e0b4"/>
<rect x="358.8" y="217.5" width="63.6" height="9.4" fill="#bdd7ee"/>
<rect x="358.8" y="226.9" width="63.6" height="2.5" fill="#ffe699"/>
<rect x="358.8" y="229.4" width="63.6" height="7.6" fill="#f8cbad"/>
<rect x="358.8" y="237" width="63.6" height="19.6" fill="#b4c7e7"/>
<rect x="358.8" y="256.6" width="63.6" height="22.8" fill="#e2efda"/>
<rect x="358.8" y="279.4" width="63.6" height="7.6" fill="#dae6f5"/>
<rect x="358.8" y="287" width="63.6" height="5.1" fill="#fff0cc"/>
<line class="v" x1="358.8" x2="358.8" y1="199.7" y2="292.1"/>
<line class="k" x1="358" x2="361.4" y1="200" y2="200"/>
<text class="c" x="356.6" y="211.15">Metabolism</text>
<text class="s" x="421.8" y="201.44">Carbohydrate metabolism</text>
<text class="s" x="421.8" y="203.42">Energy metabolism</text>
<text class="s" x="421.8" y="205.39">Lipid metabolism</text>
<text class="s" x="421.8" y="207.37">Glycan biosynthesis and metabolism</text>
<text class="s" x="421.8" y="209.35">Nucleotide metabolism</text>
<text class="s" x="421.8" y="211.33">Metabolism of terpenoids and polyketides</text>
<text class="s" x="421.8" y="213.31">Amino acid metabolism</text>
<text class="s" x="421.8" y="215.28">Metabolism of other amino acids</text>
<text class="s" x="421.8" y="217.26">Metabolism of cofactors and vitamins</text>
<line class="k" x1="358" x2="361.4" y1="217.8" y2="217.8"/>
<text class="c" x="356.6" y="223.65">Genetic Information Processing</text>
<text class="s" x="421.8" y="219.19">Folding, sorting and degradation</text>
<text class="s" x="421.8" y="221.07">Replication and repair</text>
<text class="s" x="421.8" y="222.95">Translation</text>
<text class="s" x="421.8" y="224.83">Transcription</text>
<text class="s" x="421.8" y="226.71">Chromosome</text>
<line class="k" x1="358" x2="361.4" y1="227.2" y2="227.2"/>
<text class="c" x="356.6" y="229.55">Environmental Information Processing</text>
<text class="s" x="421.8" y="228.9">Signal transduction</text>
<line class="k" x1="358" x2="361.4" y1="229.7" y2="229.7"/>
<text class="c" x="356.6" y="234.65">Cellular Processes</text>
<text class="s" x="421.8" y="231.1">Cell growth and death</text>
<text class="s" x="421.8" y="233">Transport and catabolism</text>
<text class="s" x="421.8" y="234.9">Cellular community - eukaryotes</text>
<text class="s" x="421.8" y="236.8">Cell motility</text>
<line class="k" x1="358" x2="361.4" y1="237.3" y2="237.3"/>
<text class="c" x="356.6" y="248.65">Organismal Systems</text>
<text class="s" x="421.8" y="238.73">Immune system</text>
<text class="s" x="421.8" y="240.69">Endocrine system</text>
<text class="s" x="421.8" y="242.65">Nervous system</text>
<text class="s" x="421.8" y="244.61">Digestive system</text>
<text class="s" x="421.8" y="246.57">Development and regeneration</text>
<text class="s" x="421.8" y="248.53">Excretory system</text>
<text class="s" x="421.8" y="250.49">Sensory system</text>
<text class="s" x="421.8" y="252.45">Circulatory system</text>
<text class="s" x="421.8" y="254.41">Aging</text>
<text class="s" x="421.8" y="256.37">Environmental adaptation</text>
<line class="k" x1="358" x2="361.4" y1="256.9" y2="256.9"/>
<text class="c" x="356.6" y="270.55">Human Diseases</text>
<text class="s" x="421.8" y="258.3">Cancer: overview</text>
<text class="s" x="421.8" y="260.2">Infectious disease: bacterial</text>
<text class="s" x="421.8" y="262.1">Infectious disease: viral</text>
<text class="s" x="421.8" y="264">Neurodegenerative disease</text>
<text class="s" x="421.8" y="265.9">Cancer: specific types</text>
<text class="s" x="421.8" y="267.8">Endocrine and metabolic disease</text>
<text class="s" x="421.8" y="269.7">Infectious disease: parasitic</text>
<text class="s" x="421.8" y="271.6">Immune disease</text>
<text class="s" x="421.8" y="273.5">Cardiovascular disease</text>
<text class="s" x="421.8" y="275.4">Substance dependence</text>
<text class="s" x="421.8" y="277.3">Drug resistance: antineoplastic</text>
<text class="s" x="421.8" y="279.2">Drug resistance: antimicrobial</text>
<line class="k" x1="358" x2="361.4" y1="279.7" y2="279.7"/>
<text class="c" x="356.6" y="284.55">Brite Hierarchies</text>
<text class="s" x="421.8" y="281.1">Protein families: genetic information processing</text>
<text class="s" x="421.8" y="283">Protein families: metabolism</text>
<text class="s" x="421.8" y="284.9">Protein families: signaling and cellular processes</text>
<text class="s" x="421.8" y="286.8">Protein families</text>
<line class="k" x1="358" x2="361.4" y1="287.3" y2="287.3"/>
<text class="c" x="356.6" y="290.65">Not Included in Pathway or Brite</text>
<text class="s" x="421.8" y="288.6">Unclassified: signaling and cellular processes</text>
<text class="s" x="421.8" y="290.3">Unclassified: metabolism</text>
<text class="s" x="421.8" y="292">Poorly characterized</text>
<rect x="423.5" y="199.7" width="120" height="91.9" fill="#fdfdfd"/>
<path d="M423.5 201.27H543.5M423.5 203.44H543.5M423.5 205.6H543.5M423.5 207.76H543.5M423.5 209.92H543.5M423.5 212.09H543.5M423.5 214.25H543.5M423.5 216.41H543.5M423.5 218.51H543.5M423.5 220.54H543.5M423.5 222.56H543.5M423.5 224.59H543.5M423.5 226.68H543.5M423.5 228.86H543.5M423.5 231.04H543.5M423.5 233.22H543.5M423.5 235.4H543.5M423.5 237.55H543.5M423.5 239.66H543.5M423.5 241.77H543.5M423.5 243.88H543.5M423.5 245.99H543.5M423.5 248.11H543.5M423.5 250.22H543.5M423.5 252.33H543.5M423.5 254.44H543.5M423.5 256.55H543.5M423.5 258.64H543.5M423.5 260.75H543.5M423.5 262.84H543.5M423.5 264.94H543.5M423.5 267.04H543.5M423.5 269.14H543.5M423.5 271.25H543.5M423.5 273.34H543.5M423.5 275.44H543.5M423.5 277.54H543.5M423.5 279.65H543.5M423.5 281.77H543.5M423.5 283.89H543.5M423.5 286.01H543.5M423.5 288.13H543.5M423.5 290.25H543.5M482.5 199.7V291.6M479.68 199.7V291.6M476.86 199.7V291.6M474.04 199.7V291.6M471.22 199.7V291.6M468.4 199.7V291.6M465.58 199.7V291.6M462.76 199.7V291.6M459.94 199.7V291.6M457.12 199.7V291.6M454.3 199.7V291.6M451.48 199.7V291.6M448.66 199.7V291.6M445.84 199.7V291.6M443.02 199.7V291.6M440.2 199.7V291.6M437.38 199.7V291.6M434.56 199.7V291.6M431.74 199.7V291.6M428.92 199.7V291.6M426.1 199.7V291.6M484.4 199.7V291.6M489.92 199.7V291.6M495.44 199.7V291.6M500.96 199.7V291.6M506.48 199.7V291.6M512 199.7V291.6M517.52 199.7V291.6M523.04 199.7V291.6M528.56 199.7V291.6M534.08 199.7V291.6M539.6 199.7V291.6" fill="none" stroke="#eeeeee" stroke-width=".25"/>
<rect class="g" x="448.66" y="200.3" width="33.84" height="1.95"/>
<rect class="g" x="471.5" y="202.46" width="11" height="1.95"/>
<rect class="o" x="484.4" y="202.96" width="20.98" height="1.73"/>
<rect class="g" x="474.32" y="204.62" width="8.18" height="1.95"/>
<rect class="g" x="474.75" y="206.79" width="7.75" height="1.95"/>
<rect class="g" x="477.42" y="208.95" width="5.08" height="1.95"/>
<rect class="o" x="484.4" y="209.45" width="4.97" height="1.73"/>
<rect class="g" x="480.24" y="211.11" width="2.26" height="1.95"/>
<rect class="g" x="480.67" y="213.28" width="1.83" height="1.95"/>
<rect class="g" x="480.67" y="215.44" width="1.83" height="1.95"/>
<rect class="g" x="471.5" y="217.6" width="11" height="1.82"/>
<rect class="o" x="484.4" y="218.1" width="25.94" height="1.62"/>
<rect class="g" x="471.5" y="219.62" width="11" height="1.82"/>
<rect class="o" x="484.4" y="220.12" width="20.98" height="1.62"/>
<rect class="g" x="474.32" y="221.65" width="8.18" height="1.82"/>
<rect class="g" x="477.42" y="223.67" width="5.08" height="1.82"/>
<rect class="o" x="484.4" y="224.17" width="25.94" height="1.62"/>
<rect class="g" x="424.13" y="225.7" width="58.37" height="1.96"/>
<rect class="o" x="484.4" y="226.2" width="20.98" height="1.74"/>
<rect class="g" x="460.22" y="227.88" width="22.28" height="1.96"/>
<rect class="o" x="484.4" y="228.38" width="25.94" height="1.74"/>
<rect class="g" x="466.14" y="230.06" width="16.36" height="1.96"/>
<rect class="o" x="484.4" y="230.56" width="10.49" height="1.74"/>
<rect class="g" x="474.32" y="232.24" width="8.18" height="1.96"/>
<rect class="o" x="484.4" y="232.74" width="4.97" height="1.74"/>
<rect class="g" x="480.67" y="234.42" width="1.83" height="1.96"/>
<rect class="g" x="454.3" y="236.6" width="28.2" height="1.9"/>
<rect class="o" x="484.4" y="237.1" width="4.97" height="1.69"/>
<rect class="g" x="463.04" y="238.71" width="19.46" height="1.9"/>
<rect class="o" x="484.4" y="239.21" width="4.97" height="1.69"/>
<rect class="o" x="484.4" y="241.32" width="4.97" height="1.69"/>
<rect class="g" x="477.42" y="242.93" width="5.08" height="1.9"/>
<rect class="o" x="484.4" y="243.43" width="4.97" height="1.69"/>
<rect class="g" x="477.42" y="245.04" width="5.08" height="1.9"/>
<rect class="g" x="477.42" y="247.16" width="5.08" height="1.9"/>
<rect class="g" x="480.24" y="249.27" width="2.26" height="1.9"/>
<rect class="o" x="484.4" y="249.77" width="4.97" height="1.69"/>
<rect class="g" x="466.14" y="251.38" width="16.36" height="1.9"/>
<rect class="o" x="484.4" y="251.88" width="4.97" height="1.69"/>
<rect class="g" x="480.24" y="253.49" width="2.26" height="1.9"/>
<rect class="g" x="443.02" y="255.6" width="39.48" height="1.89"/>
<rect class="o" x="484.4" y="256.1" width="57.96" height="1.68"/>
<rect class="g" x="454.3" y="257.7" width="28.2" height="1.89"/>
<rect class="o" x="484.4" y="258.2" width="20.98" height="1.68"/>
<rect class="g" x="460.79" y="259.8" width="21.71" height="1.89"/>
<rect class="o" x="484.4" y="260.3" width="42.5" height="1.68"/>
<rect class="g" x="463.32" y="261.9" width="19.18" height="1.89"/>
<rect class="o" x="484.4" y="262.4" width="37.54" height="1.68"/>
<rect class="g" x="466.71" y="264" width="15.79" height="1.89"/>
<rect class="o" x="484.4" y="264.5" width="16.01" height="1.68"/>
<rect class="g" x="471.5" y="266.1" width="11" height="1.89"/>
<rect class="o" x="484.4" y="266.6" width="20.98" height="1.68"/>
<rect class="g" x="474.32" y="268.2" width="8.18" height="1.89"/>
<rect class="g" x="474.75" y="270.3" width="7.75" height="1.89"/>
<rect class="g" x="477.42" y="272.4" width="5.08" height="1.89"/>
<rect class="o" x="484.4" y="272.9" width="4.97" height="1.68"/>
<rect class="g" x="480.24" y="274.5" width="2.26" height="1.89"/>
<rect class="g" x="480.24" y="276.6" width="2.26" height="1.89"/>
<rect class="o" x="484.4" y="277.1" width="4.97" height="1.68"/>
<rect class="g" x="440.2" y="278.7" width="42.3" height="1.91"/>
<rect class="g" x="468.96" y="280.82" width="13.54" height="1.91"/>
<rect class="o" x="484.4" y="281.32" width="20.98" height="1.7"/>
<rect class="g" x="468.96" y="282.94" width="13.54" height="1.91"/>
<rect class="g" x="480.24" y="285.06" width="2.26" height="1.91"/>
<rect class="g" x="480.24" y="287.18" width="2.26" height="1.91"/>
<rect class="g" x="480.24" y="289.3" width="2.26" height="1.89"/>
<text class="a" x="427.3" y="298.5" style="font-size:8.2px">20</text>
<text class="a" x="442.6" y="298.5" style="font-size:8.2px">15</text>
<text class="a" x="456.3" y="298.5" style="font-size:8.2px">10</text>
<text class="a" x="469.8" y="298.5" style="font-size:8.2px">5</text>
<text class="a" x="483.8" y="298.5" style="font-size:8.2px">0</text>
<text class="a" x="511" y="298.5" style="font-size:8.2px">5</text>
<text class="a" x="539" y="298.5" style="font-size:8.2px">10</text>
</g>
</svg>
</body></html>
